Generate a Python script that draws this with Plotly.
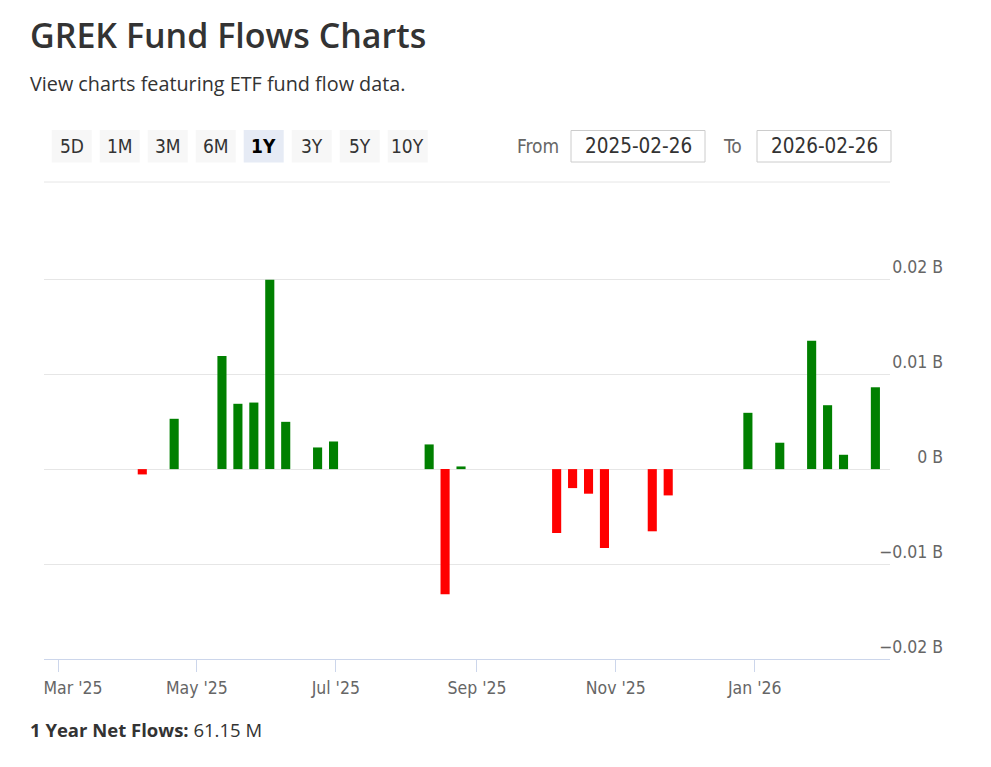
import plotly.graph_objects as go

# ---------------- data ----------------
week_dates = ["2025-04-07", "2025-04-21", "2025-05-12", "2025-05-19", "2025-05-26",
              "2025-06-02", "2025-06-09", "2025-06-23", "2025-06-30", "2025-08-11",
              "2025-08-18", "2025-08-25", "2025-10-06", "2025-10-13", "2025-10-20",
              "2025-10-27", "2025-11-17", "2025-11-24", "2025-12-29", "2026-01-12",
              "2026-01-26", "2026-02-02", "2026-02-09", "2026-02-23"]
net_flows_b = [-0.00056, 0.0053, 0.01192, 0.00688, 0.00701,
               0.01995, 0.00498, 0.00228, 0.00291, 0.0026,
               -0.01318, 0.00028, -0.00673, -0.0020, -0.00259,
               -0.00831, -0.00655, -0.00277, 0.00593, 0.00278,
               0.01353, 0.00673, 0.00151, 0.00862]

x_tick_vals = ["2025-03-01", "2025-05-01", "2025-07-01", "2025-09-01", "2025-11-01", "2026-01-01"]
x_tick_text = ["Mar '25", "May '25", "Jul '25", "Sep '25", "Nov '25", "Jan '26"]
y_tick_vals = [-0.02, -0.01, 0, 0.01, 0.02]
y_tick_text = ["\u22120.02 B", "\u22120.01 B", "0 B", "0.01 B", "0.02 B"]

range_buttons = ["5D", "1M", "3M", "6M", "1Y", "3Y", "5Y", "10Y"]
active_button = "1Y"
date_from = "2025-02-26"
date_to = "2026-02-26"
title_text = "GREK Fund Flows Charts"
subtitle_text = "View charts featuring ETF fund flow data."
net_label = "1 Year Net Flows:"
net_value = "61.15 M"

# ---------------- layout helpers ----------------
W, H = 991, 767
ML, MR, MT, MB = 44, 31, 182, 108
PW = W - ML - MR
PH = H - MT - MB


def X(px):
    return (px - ML) / PW


def Y(py):
    return (H - MB - py) / PH


COND = "DejaVu Sans Condensed, DejaVu Sans, sans-serif"
HEAD = "Open Sans, Lato, sans-serif"

colors = ["#008000" if v >= 0 else "#ff0000" for v in net_flows_b]

fig = go.Figure()
fig.add_trace(go.Bar(
    x=week_dates, y=net_flows_b,
    marker=dict(color=colors, line=dict(width=0)),
    width=4 * 86400000,
    hoverinfo="x+y",
    showlegend=False,
))

ticktext_x = [("\u00a0" * 6 + t) if i == 0 else t for i, t in enumerate(x_tick_text)]

fig.update_layout(
    width=W, height=H,
    margin=dict(l=ML, r=MR, t=MT, b=MB, pad=0),
    paper_bgcolor="white", plot_bgcolor="white",
    xaxis=dict(
        type="date",
        domain=[0, X(890)],
        range=["2025-02-22 20:00", "2026-03-01 10:00"],
        tickvals=x_tick_vals, ticktext=ticktext_x,
        showgrid=False, zeroline=False,
        showline=True, linecolor="#ccd6eb", linewidth=1,
        ticks="outside", ticklen=12, tickcolor="#ccd6eb", tickwidth=1,
        tickfont=dict(family=COND, size=17.5, color="#666666"),
        ticklabelstandoff=1,
    ),
    yaxis=dict(
        range=[-0.02, 0.03024],
        tickvals=y_tick_vals, ticktext=y_tick_text,
        showgrid=True, gridcolor="#e6e6e6", gridwidth=1,
        zeroline=False, showline=False, ticks="",
        anchor="free", position=X(943), side="left",
        ticklabelposition="outside top",
        tickfont=dict(family=COND, size=17.5, color="#666666"),
    ),
    bargap=0.4,
)

shapes = []
annotations = []

# top border line of plot area
shapes.append(dict(type="line", xref="paper", yref="paper", x0=0, x1=X(890), y0=1, y1=1,
                   line=dict(color="#e6e6e6", width=1)))

# range buttons
for i, lab in enumerate(range_buttons):
    x0 = 51.7 + 48 * i
    x1 = x0 + 40
    active = lab == active_button
    shapes.append(dict(type="rect", xref="paper", yref="paper",
                       x0=X(x0), x1=X(x1), y0=Y(162.5), y1=Y(130),
                       fillcolor="#e6ebf5" if active else "#f7f7f7",
                       line=dict(width=0), layer="below"))
    annotations.append(dict(xref="paper", yref="paper", x=X((x0 + x1) / 2), y=Y(146),
                            text=f"<b>{lab}</b>" if active else lab, showarrow=False,
                            xanchor="center", yanchor="middle",
                            font=dict(family=COND, size=19, color="#000000" if active else "#333333")))

# From / To inputs
annotations.append(dict(xref="paper", yref="paper", x=X(515), y=Y(145.5), text="From",
                        showarrow=False, xanchor="left", yanchor="middle",
                        font=dict(family=COND, size=19, color="#666666")))
annotations.append(dict(xref="paper", yref="paper", x=X(721), y=Y(145.5), text="To",
                        showarrow=False, xanchor="left", yanchor="middle",
                        font=dict(family=COND, size=19, color="#666666")))
for (bx0, bx1, txt) in [(571, 705, date_from), (757, 891, date_to)]:
    shapes.append(dict(type="rect", xref="paper", yref="paper",
                       x0=X(bx0), x1=X(bx1), y0=Y(162), y1=Y(130.5),
                       fillcolor="white", line=dict(color="#cccccc", width=1)))
    annotations.append(dict(xref="paper", yref="paper", x=X((bx0 + bx1) / 2), y=Y(146),
                            text=txt, showarrow=False, xanchor="center", yanchor="middle",
                            font=dict(family=COND, size=20.5, color="#333333")))

# titles
annotations.append(dict(xref="paper", yref="paper", x=X(28), y=Y(35), text=title_text,
                        showarrow=False, xanchor="left", yanchor="middle",
                        font=dict(family=HEAD, size=34, color="#333333", weight=600)))
annotations.append(dict(xref="paper", yref="paper", x=X(28), y=Y(84), text=subtitle_text,
                        showarrow=False, xanchor="left", yanchor="middle",
                        font=dict(family=HEAD, size=19.8, color="#333333")))
annotations.append(dict(xref="paper", yref="paper", x=X(28), y=Y(729),
                        text=f"<b>{net_label}</b> {net_value}",
                        showarrow=False, xanchor="left", yanchor="middle",
                        font=dict(family=HEAD, size=18.5, color="#333333")))

fig.update_layout(shapes=shapes, annotations=annotations)

fig.write_html("out.html")
